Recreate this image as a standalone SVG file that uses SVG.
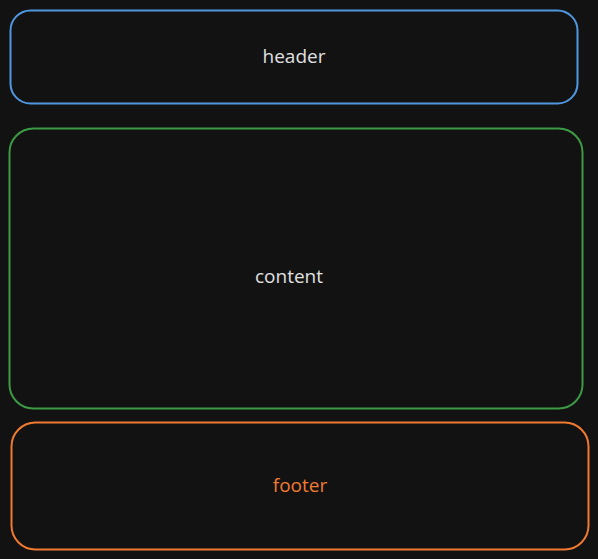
<svg xmlns="http://www.w3.org/2000/svg" width="598" height="559" viewBox="0 0 598 559">
<style>
.box{fill:#121212;stroke-width:2}
.lbl{font-family:"Open Sans","DejaVu Sans",sans-serif;font-size:19px;text-anchor:middle;dominant-baseline:central}
</style>
<rect width="598" height="559" fill="#121212"/>
<g id="header">
<rect class="box" x="10.5" y="10.5" width="567" height="93" rx="20" stroke="#4f98e0"/>
<text class="lbl" x="294" y="56" fill="#e0e0e0">header</text>
</g>
<g id="content">
<rect class="box" x="9.5" y="128.5" width="573" height="280" rx="24" stroke="#3d9a45"/>
<text class="lbl" x="289" y="276" fill="#e0e0e0">content</text>
</g>
<g id="footer">
<rect class="box" x="11.5" y="422.5" width="577" height="127" rx="24" stroke="#f07a30"/>
<text class="lbl" x="300" y="485" fill="#f07a30">footer</text>
</g>
<g id="connectors"/>
</svg>
